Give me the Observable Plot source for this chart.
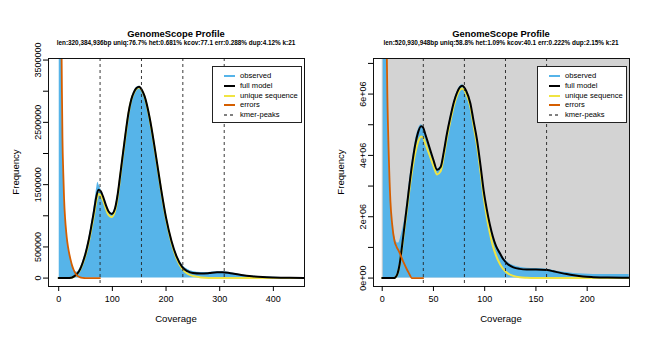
<!DOCTYPE html>
<html>
<head>
<meta charset="utf-8">
<script src="https://cdn.jsdelivr.net/npm/d3@7"></script>
<script src="https://cdn.jsdelivr.net/npm/@observablehq/plot@0.6"></script>
<style>
  html, body { margin: 0; padding: 0; background: #fff; }
  body { font-family: "Liberation Sans", Arial, Helvetica, sans-serif; color: #000; }
  #wrap { position: relative; width: 659px; height: 354px; overflow: hidden; background: #fff; }
  .panel { position: absolute; top: 0; width: 330px; height: 354px; }
  .panel svg { position: absolute; left: 0; top: 0; }
  .t { position: absolute; white-space: nowrap; line-height: 1; text-align: center; }
  .title { font-weight: bold; font-size: 9.4px; }
  .sub { font-weight: bold; font-size: 6.4px; }
  .xlab { font-size: 9.6px; }
  .ylab { font-size: 9.6px; transform: translate(-50%, -50%) rotate(-90deg); }
  .legend { position: absolute; background: #fff; border: 1px solid #222; box-sizing: border-box; }
  .legend .row { position: absolute; left: 0; height: 10px; font-size: 7.6px; line-height: 10px; white-space: nowrap; }
  .legend .row svg { position: absolute; left: 11px; top: 0; }
  .legend .row span { position: absolute; left: 27px; top: 0; }
</style>
</head>
<body>
<div id="wrap"></div>
<script>
// ---------------- data ----------------
const titleText = "GenomeScope Profile";
const leftSubtitle = "len:320,384,936bp uniq:76.7% het:0.681% kcov:77.1 err:0.288% dup:4.12% k:21";
const rightSubtitle = "len:520,930,948bp uniq:58.8% het:1.09% kcov:40.1 err:0.222% dup:2.15% k:21";
const xLabel = "Coverage";
const yLabel = "Frequency";
const legendNames = ["observed", "full model", "unique sequence", "errors", "kmer-peaks"];
const legendColors = ["#56B4E9", "#000000", "#F0E442", "#D55E00", "#000000"];

// Left panel (kcov 77.1)
const leftXTicks = [0, 100, 200, 300, 400];
const leftYTicks = [0, 500000, 1000000, 1500000, 2000000, 2500000, 3000000, 3500000];
const leftYTickLabels = ["0", "500000", "", "1500000", "", "2500000", "", "3500000"];
const leftPeaks = [77.1, 154.2, 231.3, 308.4];
const leftObserved = [[1,30e6],[2,14e6],[3,8e6],[4,5.5e6],[5,4.2e6],[6,3.2e6],[7,2.4e6],[8.5,1.8e6],[10,1.35e6],[12,1.0e6],[14,780e3],[16,620e3],[19,450e3],[22,320e3],[25,220e3],[28,150e3],[31,105e3],[34,95e3],[37,115e3],[40,160e3],[45,270e3],[50,410e3],[55,590e3],[60,820e3],[65,1.08e6],[69,1.33e6],[71,1.46e6],[73,1.54e6],[75,1.50e6],[78,1.44e6],[83,1.31e6],[88,1.18e6],[93,1.08e6],[99,1.04e6],[105,1.13e6],[110,1.36e6],[115,1.69e6],[120,2.03e6],[125,2.36e6],[130,2.66e6],[135,2.87e6],[140,2.99e6],[145,3.06e6],[150,3.08e6],[155,3.03e6],[160,2.93e6],[170,2.56e6],[180,2.05e6],[190,1.50e6],[200,1.0e6],[210,0.64e6],[220,0.38e6],[230,0.22e6],[240,0.14e6],[250,0.105e6],[265,0.09e6],[280,0.09e6],[295,0.1e6],[305,0.1e6],[320,0.085e6],[340,0.055e6],[360,0.035e6],[380,0.022e6],[400,0.015e6],[430,0.009e6],[458,0.006e6]];
const leftModel = [[0,0],[15,0],[20,2e3],[25,10e3],[30,35e3],[35,75e3],[40,145e3],[45,255e3],[50,395e3],[55,575e3],[60,795e3],[65,1.04e6],[70,1.3e6],[74,1.42e6],[78,1.40e6],[83,1.30e6],[88,1.17e6],[93,1.07e6],[99,1.03e6],[105,1.12e6],[110,1.35e6],[115,1.68e6],[120,2.02e6],[125,2.35e6],[130,2.65e6],[135,2.86e6],[140,2.98e6],[145,3.05e6],[150,3.07e6],[155,3.02e6],[160,2.92e6],[170,2.55e6],[180,2.03e6],[190,1.47e6],[200,0.97e6],[210,0.6e6],[220,0.34e6],[230,0.18e6],[240,0.11e6],[250,0.08e6],[265,0.072e6],[280,0.08e6],[295,0.095e6],[305,0.095e6],[320,0.078e6],[340,0.05e6],[360,0.03e6],[380,0.018e6],[400,0.011e6],[430,0.005e6],[458,0.003e6]];
const leftUnique = [[0,0],[15,0],[20,2e3],[25,9e3],[30,32e3],[35,70e3],[40,135e3],[45,240e3],[50,370e3],[55,540e3],[60,750e3],[65,0.98e6],[70,1.23e6],[74,1.35e6],[78,1.33e6],[83,1.24e6],[88,1.11e6],[93,1.01e6],[99,0.98e6],[105,1.08e6],[110,1.31e6],[115,1.65e6],[120,1.99e6],[125,2.32e6],[130,2.63e6],[135,2.85e6],[140,2.97e6],[145,3.04e6],[150,3.06e6],[155,3.01e6],[160,2.91e6],[170,2.53e6],[180,2.01e6],[190,1.45e6],[200,0.95e6],[210,0.57e6],[220,0.31e6],[230,0.15e6],[240,0.07e6],[250,0.035e6],[265,0.01e6],[280,0.002e6],[300,0],[458,0]];
const leftErrors = [[1,40e6],[2,15e6],[3,8e6],[4,5.3e6],[5,4.0e6],[6,3.0e6],[7,2.25e6],[8.5,1.7e6],[10,1.28e6],[12,0.95e6],[14,0.74e6],[16,0.58e6],[19,0.42e6],[22,0.3e6],[25,0.2e6],[28,0.13e6],[31,0.08e6],[34,0.045e6],[37,0.025e6],[40,0.012e6],[45,0.004e6],[50,0.001e6],[60,0],[77,0]];

// Right panel (kcov 40.1)
const rightXTicks = [0, 50, 100, 150, 200];
const rightYTicks = [0, 1e6, 2e6, 3e6, 4e6, 5e6, 6e6, 7e6];
const rightYTickLabels = ["0e+00", "", "2e+06", "", "4e+06", "", "6e+06", ""];
const rightPeaks = [40.1, 80.2, 120.3, 160.4];
const rightObserved = [[1,60e6],[2,25e6],[3,14e6],[4,9e6],[5,6.3e6],[6,4.6e6],[7,3.4e6],[8,2.6e6],[9,2.1e6],[10,1.78e6],[11,1.55e6],[12,1.38e6],[13,1.26e6],[14,1.18e6],[15,1.14e6],[16,1.14e6],[17,1.2e6],[18,1.32e6],[19,1.45e6],[20,1.6e6],[21,1.75e6],[23,2.15e6],[25,2.7e6],[27.5,3.4e6],[30,4.0e6],[32.5,4.5e6],[35,4.83e6],[38,5.0e6],[40,4.95e6],[42,4.75e6],[45,4.4e6],[50,3.87e6],[53.6,3.56e6],[57,3.65e6],[60,4.12e6],[63,4.7e6],[66.5,5.27e6],[70,5.77e6],[73,6.07e6],[78,6.3e6],[82,6.13e6],[86,5.72e6],[89,5.17e6],[92.6,4.51e6],[96,3.68e6],[99,2.88e6],[102,2.29e6],[105,1.8e6],[108,1.4e6],[111,1.1e6],[115,0.86e6],[118,0.69e6],[122,0.53e6],[128,0.41e6],[134,0.35e6],[141,0.32e6],[150,0.31e6],[161,0.29e6],[167,0.25e6],[174,0.21e6],[180,0.18e6],[187,0.15e6],[196,0.13e6],[206,0.12e6],[220,0.12e6],[241,0.12e6]];
const rightModel = [[0,0],[11,0],[13,0.03e6],[15,0.15e6],[17,0.45e6],[19,0.95e6],[21,1.5e6],[23,2.05e6],[25,2.6e6],[27.5,3.3e6],[30,3.9e6],[32.5,4.4e6],[35,4.75e6],[38,4.95e6],[40,4.9e6],[42,4.7e6],[45,4.38e6],[50,3.85e6],[53.6,3.53e6],[57,3.62e6],[60,4.1e6],[63,4.68e6],[66.5,5.25e6],[70,5.75e6],[73,6.05e6],[78,6.27e6],[82,6.1e6],[86,5.7e6],[89,5.15e6],[92.6,4.49e6],[96,3.65e6],[99,2.85e6],[102,2.25e6],[105,1.75e6],[108,1.35e6],[111,1.05e6],[115,0.8e6],[118,0.62e6],[122,0.47e6],[128,0.35e6],[134,0.3e6],[141,0.28e6],[150,0.28e6],[161,0.26e6],[167,0.22e6],[174,0.17e6],[180,0.13e6],[187,0.09e6],[196,0.05e6],[206,0.03e6],[220,0.015e6],[241,0.008e6]];
const rightUnique = [[0,0],[11,0],[13,0.03e6],[15,0.14e6],[17,0.42e6],[19,0.9e6],[21,1.42e6],[23,1.95e6],[25,2.47e6],[27.5,3.12e6],[30,3.67e6],[32.5,4.12e6],[35,4.44e6],[38,4.62e6],[40,4.58e6],[42,4.4e6],[45,4.12e6],[50,3.66e6],[53.6,3.38e6],[57,3.48e6],[60,3.96e6],[63,4.55e6],[66.5,5.12e6],[70,5.63e6],[73,5.95e6],[78,6.18e6],[82,6.0e6],[86,5.58e6],[89,5.0e6],[92.6,4.3e6],[96,3.45e6],[99,2.65e6],[102,2.0e6],[105,1.48e6],[108,1.05e6],[111,0.74e6],[115,0.45e6],[118,0.3e6],[122,0.17e6],[128,0.07e6],[134,0.025e6],[141,0.008e6],[150,0],[241,0]];
const rightErrors = [[1,60e6],[2,25e6],[3,13e6],[4,8.5e6],[5,6.0e6],[6.4,4.0e6],[8,2.5e6],[9.7,1.76e6],[12,1.21e6],[14,1.02e6],[16.2,0.88e6],[18.5,0.7e6],[21,0.5e6],[23.5,0.32e6],[26,0.16e6],[29,0],[40,0]];

// ---------------- drawing ----------------
const FONT = '"Liberation Sans", Arial, Helvetica, sans-serif';
const X = d => d[0], Y = d => d[1];

function makePanel(o) {
  const W = 330, H = 354, mt = 58, mb = 68;
  const marks = [];
  if (o.greyBackground) {
    marks.push(Plot.rect([{x1: 0, x2: o.xDomain[1], y1: 0, y2: o.yDomain[1]}],
      {x1: "x1", x2: "x2", y1: "y1", y2: "y2", fill: "#D3D3D3", clip: true}));
  }
  marks.push(
    Plot.areaY(o.observed, {x: X, y: Y, fill: legendColors[0], curve: "monotone-x", clip: true}),
    Plot.lineY(o.unique, {x: X, y: Y, stroke: legendColors[2], strokeWidth: 2, curve: "monotone-x", clip: true}),
    Plot.lineY(o.model, {x: X, y: Y, stroke: legendColors[1], strokeWidth: 2, curve: "monotone-x", clip: true}),
    Plot.lineY(o.errors, {x: X, y: Y, stroke: legendColors[3], strokeWidth: 1.8, curve: "monotone-x", clip: true}),
    Plot.ruleX(o.peaks, {x: d => d, stroke: "#222", strokeWidth: 0.9, strokeDasharray: "3,3"}),
    Plot.frame({stroke: "#111", strokeWidth: 1}),
    Plot.axisX({ticks: o.xTicks, tickSize: 5, tickPadding: 4.5, label: null, tickFormat: d => String(d)}),
    Plot.axisY({ticks: o.yTicks, tickSize: 5, tickPadding: 3, tickRotate: -90, label: null,
      tickFormat: d => o.yTickLabels[o.yTicks.indexOf(d)] ?? ""})
  );
  const svg = Plot.plot({
    width: W, height: H,
    marginLeft: o.ml, marginRight: o.mr, marginTop: mt, marginBottom: mb,
    x: {domain: o.xDomain},
    y: {domain: o.yDomain},
    style: {fontFamily: FONT, fontSize: "9px", background: "transparent", color: "#000", overflow: "visible"},
    marks
  });

  const div = document.createElement("div");
  div.className = "panel";
  div.style.left = o.left + "px";
  div.appendChild(svg);

  const fl = o.ml, fr = W - o.mr, fcx = (fl + fr) / 2, fcy = (mt + (H - mb)) / 2;
  const addText = (cls, text, css) => {
    const t = document.createElement("div");
    t.className = "t " + cls;
    t.textContent = text;
    Object.assign(t.style, css);
    div.appendChild(t);
    return t;
  };
  addText("title", titleText, {left: fcx + "px", top: "29.4px", transform: "translateX(-50%)"});
  addText("sub", o.subtitle, {left: fcx + "px", top: "40.2px", transform: "translateX(-50%)"});
  addText("xlab", xLabel, {left: fcx + "px", top: "314px", transform: "translateX(-50%)"});
  addText("ylab", yLabel, {left: (fl - 32.5) + "px", top: fcy + "px"});

  // legend
  const lg = document.createElement("div");
  lg.className = "legend";
  const lw = 90, lh = 57;
  Object.assign(lg.style, {left: (fr - 2 - lw) + "px", top: (mt + 8) + "px", width: lw + "px", height: lh + "px"});
  legendNames.forEach((name, i) => {
    const row = document.createElement("div");
    row.className = "row";
    row.style.top = (4.4 + i * 9.6) + "px";
    row.style.width = lw + "px";
    const dash = name === "kmer-peaks" ? 'stroke-dasharray="3,3"' : "";
    const sw = name === "kmer-peaks" ? 1 : 2;
    row.innerHTML = `<svg width="12" height="10"><line x1="0" x2="11" y1="5" y2="5" stroke="${legendColors[i]}" stroke-width="${sw}" ${dash}/></svg><span>${name}</span>`;
    lg.appendChild(row);
  });
  div.appendChild(lg);
  return div;
}

const wrap = document.getElementById("wrap");
wrap.appendChild(makePanel({
  left: 0, ml: 48, mr: 26,
  xDomain: [-19, 458], yDomain: [-135000, 3525000],
  xTicks: leftXTicks, yTicks: leftYTicks, yTickLabels: leftYTickLabels,
  peaks: leftPeaks, observed: leftObserved, model: leftModel, unique: leftUnique, errors: leftErrors,
  subtitle: leftSubtitle, greyBackground: false
}));
wrap.appendChild(makePanel({
  left: 330, ml: 43, mr: 31,
  xDomain: [-8.5, 241.3], yDomain: [-275000, 7160000],
  xTicks: rightXTicks, yTicks: rightYTicks, yTickLabels: rightYTickLabels,
  peaks: rightPeaks, observed: rightObserved, model: rightModel, unique: rightUnique, errors: rightErrors,
  subtitle: rightSubtitle, greyBackground: true
}));
</script>
</body>
</html>
